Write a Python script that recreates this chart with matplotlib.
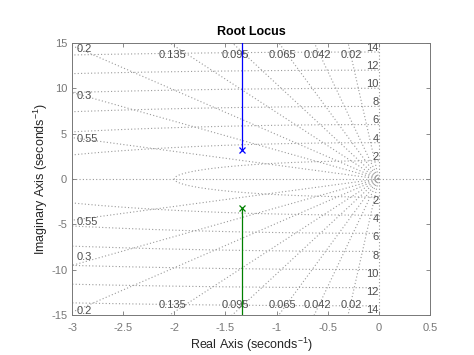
import numpy as np
import matplotlib
matplotlib.use("Agg")
import matplotlib.pyplot as plt

plt.rcParams['font.family'] = ['Liberation Sans', 'DejaVu Sans']
plt.rcParams['mathtext.fontset'] = 'custom'
plt.rcParams['mathtext.rm'] = 'Liberation Sans'
plt.rcParams['mathtext.it'] = 'Liberation Sans:italic'
plt.rcParams['mathtext.bf'] = 'Liberation Sans:bold'

# ---- data ----
pole_re = [-1.333, -1.333]
pole_im = [3.16, -3.16]
branch_up_re = [-1.333, -1.333]
branch_up_im = [3.16, 16.0]
branch_dn_re = [-1.333, -1.333]
branch_dn_im = [-3.16, -16.0]
zeta_top = [0.02, 0.042, 0.065, 0.095, 0.135]
zeta_left = [0.2, 0.3, 0.55]
zeta_all = zeta_top + zeta_left
wn_vals = [2, 4, 6, 8, 10, 12, 14]
xticks = [-3, -2.5, -2, -1.5, -1, -0.5, 0, 0.5]
yticks = [-15, -10, -5, 0, 5, 10, 15]

fig = plt.figure(figsize=(4.74, 3.55), dpi=100)
ax = fig.add_axes([0.152, 0.113, 0.755, 0.766])

gcol = '#9a9a9a'
tcol = '#505050'
gkw = dict(color=gcol, lw=0.8, ls=(0, (1, 2)), zorder=1)

# damping lines
R = 40.0
for z in zeta_all:
    s = np.sqrt(1 - z**2)
    ax.plot([0, -z*R], [0, s*R], **gkw)
    ax.plot([0, -z*R], [0, -s*R], **gkw)
# zeta=1 and real axis, zeta=0 imaginary axis
ax.plot([-5, 1], [0, 0], **gkw)
ax.plot([0, 0], [-20, 20], **gkw)

# natural frequency circles (left half plane)
th = np.linspace(np.pi/2, 3*np.pi/2, 400)
for w in wn_vals:
    ax.plot(w*np.cos(th), w*np.sin(th), **gkw)

# damping labels
fs = 8
for z in zeta_top:
    xl = -15*z/np.sqrt(1 - z**2)
    ax.text(xl + 0.03, 13.7, f"{z:g}", ha='center', va='center', fontsize=fs, color=tcol, zorder=3)
    ax.text(xl + 0.03, -13.9, f"{z:g}", ha='center', va='center', fontsize=fs, color=tcol, zorder=3)
for z, yt, yb in zip(zeta_left, [14.3, 9.1, 4.35], [-14.6, -8.6, -4.75]):
    ax.text(-2.96, yt, f"{z:g}", ha='left', va='center', fontsize=fs, color=tcol, zorder=3)
    ax.text(-2.96, yb, f"{z:g}", ha='left', va='center', fontsize=fs, color=tcol, zorder=3)
# wn labels
for w in wn_vals:
    ax.text(0.0, w - 0.1, f"{w:g}", ha='right', va='bottom', fontsize=fs, color=tcol, zorder=3)
    ax.text(0.0, -w + 0.1, f"{w:g}", ha='right', va='top', fontsize=fs, color=tcol, zorder=3)

# locus
ax.plot(branch_up_re, branch_up_im, color='#0000ff', lw=0.9, zorder=4)
ax.plot(branch_dn_re, branch_dn_im, color='#008000', lw=0.9, zorder=4)
ax.plot(pole_re[0], pole_im[0], 'x', color='#0000ff', ms=4.5, mew=0.9, zorder=5)
ax.plot(pole_re[1], pole_im[1], 'x', color='#008000', ms=4.5, mew=0.9, zorder=5)

ax.set_xlim(-3, 0.5)
ax.set_ylim(-15, 15)
ax.set_xticks(xticks)
ax.set_xticklabels([f"{t:g}" for t in xticks])
ax.set_yticks(yticks)
ax.set_yticklabels([f"{t:g}" for t in yticks])
ax.tick_params(direction='in', top=True, right=True, length=3, width=0.6,
               colors='#777777', labelsize=8, labelcolor='#777777')
ax.tick_params(axis='x', pad=6)
for sp in ax.spines.values():
    sp.set_color('#777777')
    sp.set_linewidth(0.7)

ax.set_xlabel('Real Axis (seconds$^{-1}$)', fontsize=9, color='#262626', labelpad=2)
ax.set_ylabel('Imaginary Axis (seconds$^{-1}$)', fontsize=9, color='#262626', labelpad=1)
ax.set_title('Root Locus', fontsize=9, fontweight='bold', color='#000000', pad=6)

fig.savefig('out.png', dpi=100)
